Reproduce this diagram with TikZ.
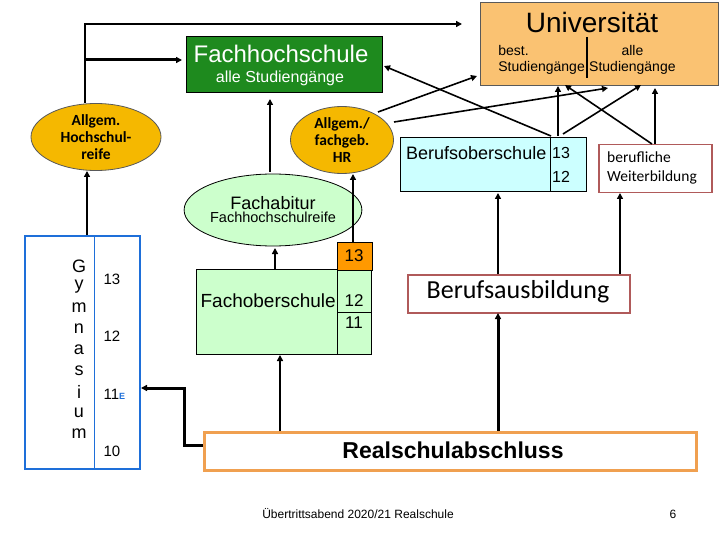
\documentclass[tikz,border=0pt]{standalone}
\usepackage{fontspec}
\setmainfont{Liberation Sans}
\newfontfamily\carl{Carlito}
\usetikzlibrary{arrows.meta,shapes.geometric}
\definecolor{uni}{HTML}{FAC272}
\definecolor{fhg}{HTML}{1E8A1E}
\definecolor{gold}{HTML}{F5B800}
\definecolor{lgreen}{HTML}{CCFFCC}
\definecolor{lcyan}{HTML}{CCFFFF}
\definecolor{brown}{HTML}{B05A5A}
\definecolor{gblue}{HTML}{1E6FD9}
\definecolor{ora}{HTML}{FF9900}
\definecolor{rso}{HTML}{F0A050}
\tikzset{
 box/.style={draw,minimum width=#1,inner sep=0pt,anchor=north west},
 ell/.style={ellipse,draw=gray!70!black,thick,inner sep=0pt,align=center},
 arr/.style={-{Triangle[length=6pt,width=6pt]},line width=1.6pt},
 ln/.style={line width=1.6pt}
}
\begin{document}
\begin{tikzpicture}[x=1pt,y=-1pt]
\useasboundingbox (0,0) rectangle (720,540);
% Universitaet
\node[box=238pt,minimum height=83pt,fill=uni,draw=gray!70!black,thick] (uni) at (480,2) {};
\node[font=\fontsize{28}{28}\selectfont] (unit) at (592,22) {Universität};
\draw[line width=1.2pt] (587,37) coordinate (d1) -- (587,78) coordinate (d2);
\node[font=\fontsize{14}{16}\selectfont,align=left,anchor=east,inner sep=1pt] (ub) at (586,60) {best.\\Studiengänge};
\node[font=\fontsize{14}{16}\selectfont,align=center,anchor=west,inner sep=1pt] (ua) at (588,60) {alle\\Studiengänge};
% FH
\node[box=196pt,minimum height=56pt,fill=fhg,draw=black,thick] (fh) at (186,36) {};
\node[text=white,font=\fontsize{24}{24}\selectfont] (fht) at (281,54) {Fachhochschule};
\node[text=white,font=\fontsize{16}{16}\selectfont] (fhs) at (280,78) {alle Studiengänge};
% ellipses
\node[ell,fill=gold,minimum width=130pt,minimum height=67pt,font=\carl\bfseries\fontsize{15.5}{17}\selectfont] (ahr) at (96,137) {Allgem.\\Hochschul-\\reife};
\node[ell,fill=gold,minimum width=103pt,minimum height=67pt,font=\carl\bfseries\fontsize{15.5}{17}\selectfont] (hr) at (342,140) {Allgem./\\fachgeb.\\HR};
\node[ell,draw=black,fill=lgreen,minimum width=152pt,minimum height=72pt] (fa) at (273,210) {\fontsize{18}{19}\selectfont Fachabitur\\[1pt]\fontsize{14.5}{15}\selectfont Fachhochschulreife};
% BOS
\node[box=186pt,minimum height=54pt,fill=lcyan,draw=black,thick] (bos) at (400,137) {};
\draw[thick] (550,137) -- (550,191);
\node[font=\fontsize{18}{18}\selectfont,anchor=west,inner sep=1pt] (bost) at (405,153) {Berufsoberschule};
\node[font=\fontsize{16}{16}\selectfont,anchor=west,inner sep=1pt] (b13) at (551,153) {13};
\node[font=\fontsize{16}{16}\selectfont,anchor=west,inner sep=1pt] (b12) at (551,177) {12};
% Weiterbildung
\node[box=113pt,minimum height=48pt,fill=white,draw=brown,line width=1.5pt] (wb) at (598,144) {};
\node[align=left,font=\carl\fontsize{15.5}{19}\selectfont] (wbt) at (652,168) {berufliche\\Weiterbildung};
% Gymnasium
\node[box=115pt,minimum height=233pt,draw=gblue,line width=2pt] (gym) at (24,235) {};
\draw[gblue,thick] (94,235) -- (94,468);
\foreach \l [count=\i] in {G,y,m,n,a,s,i,u,m}
  \node[font=\fontsize{18}{18}\selectfont] (g\i) at (79,245+\i*21) {\l};
\node[font=\fontsize{15}{15}\selectfont,anchor=west] (g13) at (100,279) {13};
\node[font=\fontsize{15}{15}\selectfont,anchor=west] (g12) at (100,336) {12};
\node[font=\fontsize{15}{15}\selectfont,anchor=west] (g11) at (100,394) {11\textcolor{gblue}{\bfseries\small E}};
\node[font=\fontsize{15}{15}\selectfont,anchor=west] (g10) at (100,451) {10};
% FOS
\node[box=175pt,minimum height=85pt,fill=lgreen,draw=black,thick] (fos) at (196,269) {};
\draw[thick] (337,269) -- (337,354) (337,312) -- (371,312);
\node[box=35pt,minimum height=28pt,fill=ora,draw=black,thick] (f13) at (337,242) {};
\node[font=\fontsize{17}{17}\selectfont] (f13t) at (354,256) {13};
\node[font=\fontsize{19}{19}\selectfont,anchor=east,inner sep=1pt] (fost) at (337,301) {Fachoberschule};
\node[font=\fontsize{17}{17}\selectfont] (f12) at (354,301) {12};
\node[font=\fontsize{17}{17}\selectfont] (f11) at (354,323) {11};
% Berufsausbildung
\node[box=222pt,minimum height=38pt,fill=white,draw=brown,line width=1.5pt] (ba) at (407,274) {};
\node[font=\carl\fontsize{26}{26}\selectfont] (bat) at (518,292) {Berufsausbildung};
% Realschulabschluss
\node[box=492pt,minimum height=38pt,fill=white,draw=rso,line width=2.5pt] (rs) at (203,431) {};
\node[font=\bfseries\fontsize{23}{23}\selectfont] (rst) at (453,450) {Realschulabschluss};
% footer
\node[font=\fontsize{12}{12}\selectfont] (ft) at (358,514) {Übertrittsabend 2020/21 Realschule};
\node[font=\fontsize{12}{12}\selectfont] (pg) at (673,514) {6};
% connectors
\coordinate (c1) at (85,103); \coordinate (c2) at (85,24); \coordinate (c3) at (462,24);
\coordinate (c4) at (85,60); \coordinate (c5) at (182,60);
\draw[arr,line width=1.4pt] (c1) -- (c2) -- (c3);
\draw[arr,line width=3pt] (c4) -- (c5);
\draw[arr] (87,235) -- (87,171);
\draw[arr] (270,172) -- (270,99);
\draw[arr] (353,242) -- (353,174);
\draw[arr] (275,269) -- (275,248);
\draw[arr] (378,112) -- (477,76);
\draw[arr] (394,122) -- (608,88);
\draw[arr] (551,136) -- (384,66);
\draw[arr] (558,136) -- (558,86);
\draw[arr] (563,134) -- (641,85);
\draw[arr] (652,144) -- (565,85);
\draw[arr] (655,144) -- (655,88);
\draw[arr] (498,274) -- (498,193);
\draw[arr] (620,274) -- (620,193);
\draw[arr] (280,431) -- (280,355);
\draw[arr,line width=3pt] (498,431) -- (498,313);
\draw[arr,line width=3pt] (203,445) -- (184,445) -- (184,388) -- (141,388);
\end{tikzpicture}
\end{document}
